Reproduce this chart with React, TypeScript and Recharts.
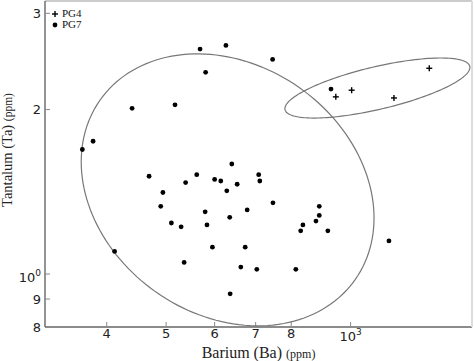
import React from 'react';
import { Scatter, ScatterChart, XAxis, YAxis } from 'recharts';

// PG4 samples (plus markers)
const PG4_BA = [946, 1004, 1177, 1344];
const PG4_TA = [2.11, 2.17, 2.1, 2.38];

// PG7 samples (dots)
const PG7_BA = [
  568, 626, 746, 580, 517, 929, 440, 380, 365, 640, 469, 561, 708, 538, 600,
  614, 711, 653, 494, 628, 747, 490, 579, 678, 635, 510, 583, 529, 595, 673,
  412, 535, 662, 703, 636, 889, 889, 878, 836, 829, 918, 1155, 814,
];
const PG7_TA = [
  2.58, 2.62, 2.47, 2.34, 2.04, 2.18, 2.01, 1.75, 1.69, 1.59, 1.51, 1.52, 1.52,
  1.47, 1.49, 1.48, 1.48, 1.46, 1.41, 1.42, 1.35, 1.33, 1.3, 1.31, 1.27, 1.24,
  1.23, 1.22, 1.12, 1.12, 1.1, 1.05, 1.03, 1.02, 0.92, 1.33, 1.28, 1.25, 1.23,
  1.2, 1.2, 1.15, 1.02,
];

// group envelopes: centre (ppm) and the two half-axis vectors in decades
const PG7_ENVELOPE = { ba: 630, ta: 1.426, ax: 0.2084, bx: -0.1168, ay: -0.1639, by: -0.1872 };
const PG4_ENVELOPE = { ba: 1106, ta: 2.19, ax: 0.1507, bx: 0.0079, ay: 0.0397, by: -0.038 };

const X_TICKS = [400, 500, 600, 700, 800, 900, 1000];
const X_TICK_LABELS = ['4', '5', '6', '7', '8', '9', '10^3'];
const Y_TICKS = [0.8, 0.9, 1, 2, 3];
const Y_TICK_LABELS = ['8', '9', '10^0', '2', '3'];

const X_DOMAIN = [317.2, 1578];
const Y_DOMAIN = [0.8, 3.16];

const pg4 = PG4_BA.map((ba, i) => ({ ba, ta: PG4_TA[i] }));
const pg7 = PG7_BA.map((ba, i) => ({ ba, ta: PG7_TA[i] }));

const ellipse = (e: typeof PG7_ENVELOPE) => {
  const pts = [];
  const n = 160;
  for (let k = 0; k <= n; k++) {
    const t = (2 * Math.PI * k) / n;
    pts.push({
      ba: Math.pow(10, Math.log10(e.ba) + e.ax * Math.cos(t) + e.bx * Math.sin(t)),
      ta: Math.pow(10, Math.log10(e.ta) + e.ay * Math.cos(t) + e.by * Math.sin(t)),
    });
  }
  return pts;
};

const tickFont = { fontFamily: 'DejaVu Sans', fontSize: 13, fill: '#222' };
const serif = 'Liberation Serif';

const renderLabel = (label: string) => {
  const [base, sup] = label.split('^');
  if (sup === undefined) return base;
  return [
    <tspan key="b">{base}</tspan>,
    <tspan key="s" dy={-6} fontSize={9}>
      {sup}
    </tspan>,
  ];
};

const XTick = (props: any) => {
  const { x, y, payload } = props;
  const label = X_TICK_LABELS[X_TICKS.indexOf(payload.value)] ?? '';
  const shift = label.includes('^') ? 3 : 0;
  return (
    <text x={x} y={y + shift} textAnchor="middle" {...tickFont}>
      {renderLabel(label)}
    </text>
  );
};

const YTick = (props: any) => {
  const { x, y, payload } = props;
  const label = Y_TICK_LABELS[Y_TICKS.indexOf(payload.value)] ?? '';
  const shift = label.includes('^') ? 3 : 0;
  return (
    <text x={x} y={y + 4.5 + shift} textAnchor="end" {...tickFont}>
      {renderLabel(label)}
    </text>
  );
};

const PlusShape = (props: any) => {
  const { cx, cy } = props;
  return (
    <g stroke="#000" strokeWidth={1.4}>
      <line x1={cx - 3} x2={cx + 3} y1={cy} y2={cy} />
      <line x1={cx} x2={cx} y1={cy - 3} y2={cy + 3} />
    </g>
  );
};

const DotShape = (props: any) => <circle cx={props.cx} cy={props.cy} r={2.4} fill="#000" />;

const NoShape = () => <g />;

const XTitle = (props: any) => {
  const { x, width } = props.viewBox;
  return (
    <text x={x + width / 2} y={358} textAnchor="middle" fontFamily={serif} fill="#222">
      <tspan fontSize={16}>Barium (Ba) </tspan>
      <tspan fontSize={12}>(ppm)</tspan>
    </text>
  );
};

const YTitle = () => (
  <text
    x={12}
    y={150}
    textAnchor="middle"
    fontFamily={serif}
    fill="#222"
    transform="rotate(-90, 12, 150)"
  >
    <tspan fontSize={14.5}>Tantalum (Ta) </tspan>
    <tspan fontSize={11.5}>(ppm)</tspan>
  </text>
);

const tickLine = { stroke: '#888', strokeWidth: 1 };

export default function App() {
  return (
    <div style={{ position: 'absolute', left: 0, top: 0, width: 474, height: 361, background: '#fff' }}>
      <ScatterChart width={474} height={361} margin={{ top: 0, right: 0, bottom: 0, left: 0 }}>
        <XAxis
          xAxisId="b"
          dataKey="ba"
          type="number"
          scale="log"
          domain={X_DOMAIN}
          allowDataOverflow
          ticks={X_TICKS}
          height={34}
          tickSize={-5}
          tickMargin={16}
          tick={<XTick />}
          tickLine={tickLine}
          axisLine={{ stroke: '#666', strokeWidth: 1.4 }}
          label={<XTitle />}
        />
        <XAxis
          xAxisId="t"
          orientation="top"
          dataKey="ba"
          type="number"
          scale="log"
          domain={X_DOMAIN}
          allowDataOverflow
          ticks={X_TICKS}
          height={1}
          tickSize={-5}
          tick={false}
          tickLine={tickLine}
          axisLine={{ stroke: '#ccc', strokeWidth: 2 }}
        />
        <YAxis
          yAxisId="l"
          dataKey="ta"
          type="number"
          scale="log"
          domain={Y_DOMAIN}
          allowDataOverflow
          ticks={Y_TICKS}
          width={45}
          tickSize={-5}
          tickMargin={9}
          tick={<YTick />}
          tickLine={tickLine}
          axisLine={{ stroke: '#666', strokeWidth: 1.4 }}
          label={<YTitle />}
        />
        <YAxis
          yAxisId="r"
          orientation="right"
          dataKey="ta"
          type="number"
          scale="log"
          domain={Y_DOMAIN}
          allowDataOverflow
          ticks={Y_TICKS}
          width={2}
          tickSize={-5}
          tick={false}
          tickLine={tickLine}
          axisLine={{ stroke: '#ddd', strokeWidth: 2 }}
        />
        <Scatter
          name="PG7 envelope"
          data={ellipse(PG7_ENVELOPE)}
          xAxisId="b"
          yAxisId="l"
          line={{ stroke: '#777', strokeWidth: 1.2 }}
          lineType="joint"
          shape={<NoShape />}
          isAnimationActive={false}
        />
        <Scatter
          name="PG4 envelope"
          data={ellipse(PG4_ENVELOPE)}
          xAxisId="b"
          yAxisId="l"
          line={{ stroke: '#777', strokeWidth: 1.2 }}
          lineType="joint"
          shape={<NoShape />}
          isAnimationActive={false}
        />
        <Scatter name="PG7" data={pg7} xAxisId="b" yAxisId="l" shape={<DotShape />} isAnimationActive={false} />
        <Scatter name="PG4" data={pg4} xAxisId="b" yAxisId="l" shape={<PlusShape />} isAnimationActive={false} />
      </ScatterChart>
      <div
        style={{
          position: 'absolute',
          left: 51,
          top: 8,
          fontFamily: serif,
          fontSize: 11,
          lineHeight: '11px',
          color: '#111',
        }}
      >
        <div style={{ display: 'flex', alignItems: 'center' }}>
          <svg width={8} height={8} style={{ marginRight: 3 }}>
            <line x1={1} x2={7} y1={4} y2={4} stroke="#000" strokeWidth={1.4} />
            <line x1={4} x2={4} y1={1} y2={7} stroke="#000" strokeWidth={1.4} />
          </svg>
          PG4
        </div>
        <div style={{ display: 'flex', alignItems: 'center' }}>
          <svg width={8} height={8} style={{ marginRight: 3 }}>
            <circle cx={4} cy={4} r={2.4} fill="#000" />
          </svg>
          PG7
        </div>
      </div>
    </div>
  );
}
